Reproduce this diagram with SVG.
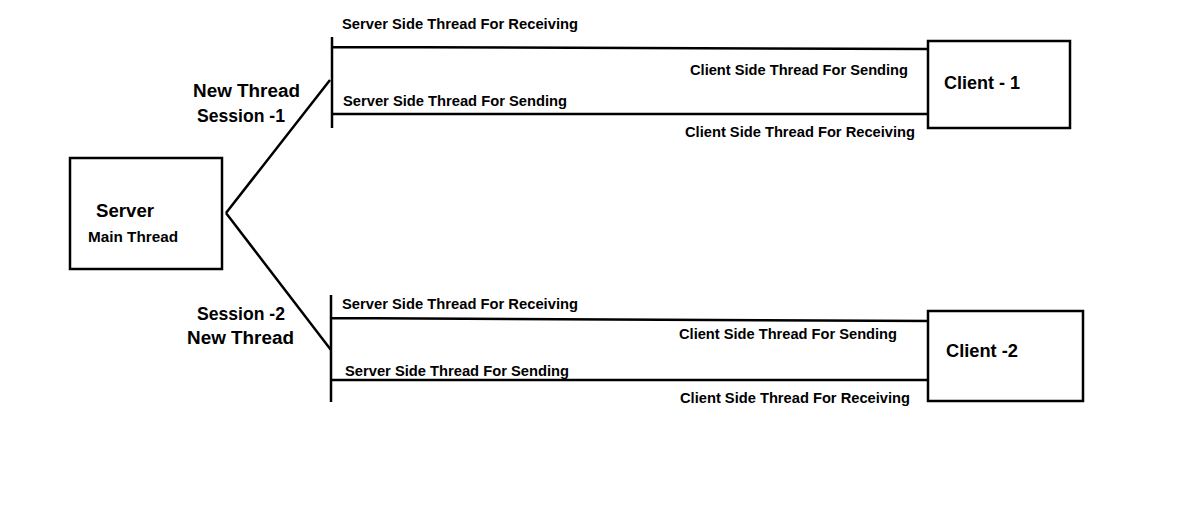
<svg xmlns="http://www.w3.org/2000/svg" width="1200" height="517" viewBox="0 0 1200 517">
<style>
.b{fill:#fff;stroke:#000;stroke-width:2.5}
.l{stroke:#000;stroke-width:2.5;fill:none}
text{font-family:"Liberation Sans",Arial,sans-serif;font-weight:bold;fill:#000}
.s{font-size:14px}
.m{font-size:18px}
</style>
<rect width="1200" height="517" fill="#fff"/>
<g id="connectors">
<path class="l" d="M226 213 L330 80 M226 213 L331 350"/>
<path class="l" d="M332 37 V128 M332 47 L928 49 M332 114 H928"/>
<path class="l" d="M331 295 V402 M331 318 L932 321 M331 380 H930"/>
<text class="s" x="342" y="29" textLength="236" lengthAdjust="spacingAndGlyphs">Server Side Thread For Receiving</text>
<text class="s" x="690" y="75" textLength="218" lengthAdjust="spacingAndGlyphs">Client Side Thread For Sending</text>
<text class="s" x="343" y="106" textLength="224" lengthAdjust="spacingAndGlyphs">Server Side Thread For Sending</text>
<text class="s" x="685" y="137" textLength="230" lengthAdjust="spacingAndGlyphs">Client Side Thread For Receiving</text>
<text class="s" x="342" y="309" textLength="236" lengthAdjust="spacingAndGlyphs">Server Side Thread For Receiving</text>
<text class="s" x="679" y="339" textLength="218" lengthAdjust="spacingAndGlyphs">Client Side Thread For Sending</text>
<text class="s" x="345" y="376" textLength="224" lengthAdjust="spacingAndGlyphs">Server Side Thread For Sending</text>
<text class="s" x="680" y="403" textLength="230" lengthAdjust="spacingAndGlyphs">Client Side Thread For Receiving</text>
<text class="m" x="193" y="97" textLength="107" lengthAdjust="spacingAndGlyphs">New Thread</text>
<text class="m" x="197" y="122" textLength="88" lengthAdjust="spacingAndGlyphs">Session -1</text>
<text class="m" x="197" y="320" textLength="88" lengthAdjust="spacingAndGlyphs">Session -2</text>
<text class="m" x="187" y="344" textLength="107" lengthAdjust="spacingAndGlyphs">New Thread</text>
</g>
<g id="server">
<rect class="b" x="70" y="158" width="152" height="111"/>
<text class="m" x="96" y="217" textLength="58" lengthAdjust="spacingAndGlyphs">Server</text>
<text class="s" x="88" y="242" textLength="90" lengthAdjust="spacingAndGlyphs">Main Thread</text>
</g>
<g id="client1">
<rect class="b" x="928" y="41" width="142" height="87"/>
<text class="m" x="944" y="89" textLength="76" lengthAdjust="spacingAndGlyphs">Client - 1</text>
</g>
<g id="client2">
<rect class="b" x="928" y="311" width="155" height="90"/>
<text class="m" x="946" y="357" textLength="72" lengthAdjust="spacingAndGlyphs">Client -2</text>
</g>
</svg>
